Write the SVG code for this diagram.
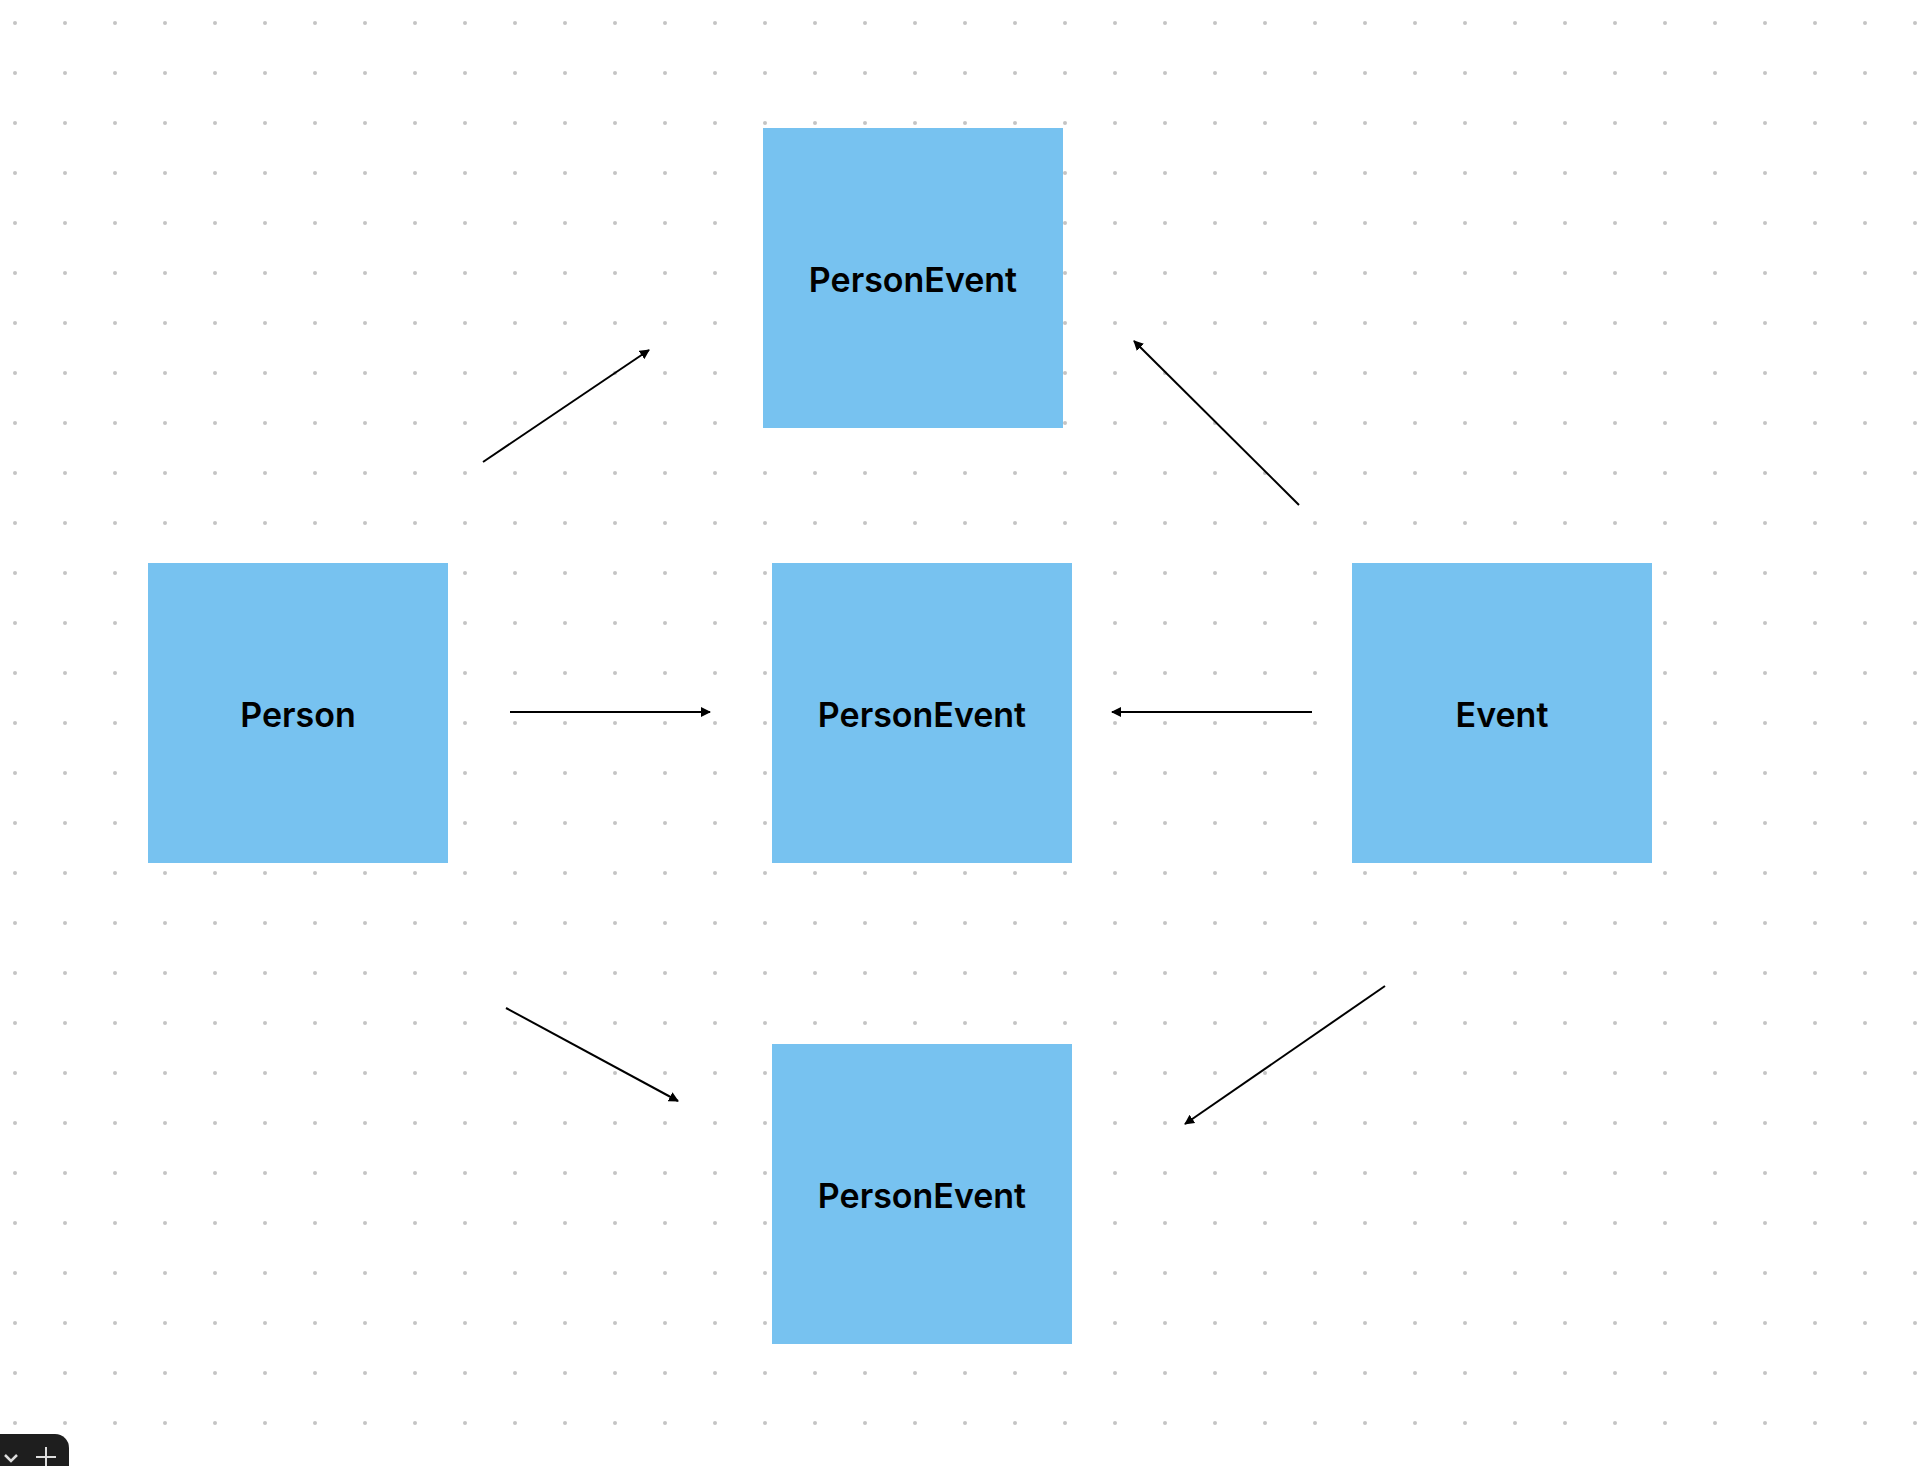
<svg xmlns="http://www.w3.org/2000/svg" width="1932" height="1466" viewBox="0 0 1932 1466">
<defs>
<pattern id="dots" x="15" y="23" width="50" height="50" patternUnits="userSpaceOnUse"><circle cx="0" cy="0" r="2" fill="#c4c4c4"/><circle cx="50" cy="0" r="2" fill="#c4c4c4"/><circle cx="0" cy="50" r="2" fill="#c4c4c4"/><circle cx="50" cy="50" r="2" fill="#c4c4c4"/></pattern>
<marker id="ah" viewBox="0 0 10 10" refX="9" refY="5" markerWidth="10" markerHeight="10" markerUnits="userSpaceOnUse" orient="auto"><path d="M0,0 L10,5 L0,10 z" fill="#000"/></marker>
<style>
.n{fill:#77c2f0}
.t{font-family:Inter,"Liberation Sans",sans-serif;font-weight:600;font-size:34px;fill:#000;text-anchor:middle;dominant-baseline:central}
.c line{stroke:#000;stroke-width:2;marker-end:url(#ah)}
</style>
</defs>
<rect width="1932" height="1466" fill="#fff"/>
<rect width="1932" height="1466" fill="url(#dots)"/>
<g id="pe-top"><rect class="n" x="763" y="128" width="300" height="300"/><text class="t" x="913" y="279">PersonEvent</text></g>
<g id="person"><rect class="n" x="148" y="563" width="300" height="300"/><text class="t" x="298" y="714">Person</text></g>
<g id="pe-mid"><rect class="n" x="772" y="563" width="300" height="300"/><text class="t" x="922" y="714">PersonEvent</text></g>
<g id="event"><rect class="n" x="1352" y="563" width="300" height="300"/><text class="t" x="1502" y="714">Event</text></g>
<g id="pe-bot"><rect class="n" x="772" y="1044" width="300" height="300"/><text class="t" x="922" y="1195">PersonEvent</text></g>
<g class="c" id="connectors">
<line x1="483" y1="462" x2="649" y2="350"/>
<line x1="1299" y1="505" x2="1134" y2="341"/>
<line x1="510" y1="712" x2="710" y2="712"/>
<line x1="1312" y1="712" x2="1112" y2="712"/>
<line x1="506" y1="1008" x2="678" y2="1101"/>
<line x1="1385" y1="986" x2="1185" y2="1124"/>
</g>
<g id="toolbar">
<path d="M0,1434 H55 A14,14 0 0 1 69,1448 V1466 H0 Z" fill="#1e1e1e"/>
<path d="M5,1455 L11,1461 L17,1455" fill="none" stroke="#ddd" stroke-width="2.5"/>
<path d="M46,1447 V1466 M36,1457 H56" stroke="#ddd" stroke-width="2"/>
</g>
</svg>
